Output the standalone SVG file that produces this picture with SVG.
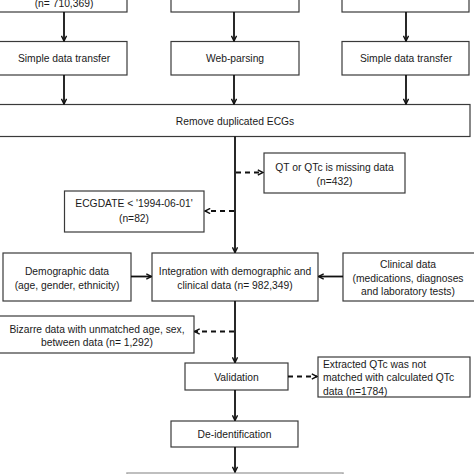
<svg xmlns="http://www.w3.org/2000/svg" width="474" height="474" viewBox="0 0 474 474">
<style>
.box{fill:#fff;stroke:#3a3a3a;stroke-width:1.2}
.t{font-family:"Liberation Sans",Arial,sans-serif;font-size:10.3px;fill:#1a1a1a;text-anchor:middle}
.tl{font-family:"Liberation Sans",Arial,sans-serif;font-size:10.3px;fill:#1a1a1a;text-anchor:start}
.ln{stroke:#111;stroke-width:1.8;fill:none}
.dl{stroke:#111;stroke-width:1.8;fill:none;stroke-dasharray:5,4}
</style>
<defs>
<marker id="ah" viewBox="0 0 10 10" refX="9" refY="5" markerWidth="6.5" markerHeight="6.5" orient="auto" markerUnits="userSpaceOnUse">
<path d="M1,1 L9,5 L1,9" fill="none" stroke="#111" stroke-width="2.2"/>
</marker>
</defs>
<rect width="474" height="474" fill="#fff"/>
<g id="src1"><rect class="box" x="-1" y="-20" width="128" height="32"/><text class="t" x="64" y="7">(n= 710,369)</text></g>
<g id="src2"><rect class="box" x="171" y="-20" width="128" height="32"/></g>
<g id="src3"><rect class="box" x="342" y="-20" width="127" height="32"/></g>
<g id="xfer1"><rect class="box" x="-1" y="41.5" width="128" height="33.5"/><text class="t" x="64" y="62">Simple data transfer</text></g>
<g id="xfer2"><rect class="box" x="171" y="41.5" width="128" height="33.5"/><text class="t" x="235" y="62">Web-parsing</text></g>
<g id="xfer3"><rect class="box" x="342" y="41.5" width="127" height="33.5"/><text class="t" x="406" y="62">Simple data transfer</text></g>
<g id="remove"><rect class="box" x="-1" y="104.5" width="471" height="32"/><text class="t" x="235" y="124.5">Remove duplicated ECGs</text></g>
<g id="qt"><rect class="box" x="264" y="153" width="141" height="40"/><text class="t" x="334.5" y="170.5">QT or QTc is missing data</text><text class="t" x="334.5" y="184.5">(n=432)</text></g>
<g id="ecgdate"><rect class="box" x="64.5" y="191" width="139.5" height="41"/><text class="t" x="134" y="207">ECGDATE &lt; '1994-06-01'</text><text class="t" x="134" y="222">(n=82)</text></g>
<g id="demo"><rect class="box" x="3" y="253" width="128" height="48"/><text class="t" x="67" y="274.5">Demographic data</text><text class="t" x="67" y="288.5">(age, gender, ethnicity)</text></g>
<g id="integ"><rect class="box" x="152" y="253" width="166" height="48"/><text class="t" x="235" y="274.5">Integration with demographic and</text><text class="t" x="235" y="288.5">clinical data (n= 982,349)</text></g>
<g id="clin"><rect class="box" x="343" y="253" width="132" height="48"/><text class="t" x="408" y="268">Clinical data</text><text class="t" x="408" y="281.5">(medications, diagnoses</text><text class="t" x="408" y="295">and laboratory tests)</text></g>
<g id="bizarre"><rect class="box" x="-1" y="316" width="195" height="37"/><text class="t" x="97" y="333">Bizarre data with unmatched age, sex,</text><text class="t" x="97" y="345.5">between data (n= 1,292)</text></g>
<g id="valid"><rect class="box" x="185" y="363" width="103" height="27"/><text class="t" x="236.5" y="380.5">Validation</text></g>
<g id="extr"><rect class="box" x="318" y="357" width="152" height="40"/><text class="tl" x="323" y="367.5">Extracted QTc was not</text><text class="tl" x="323" y="381">matched with calculated QTc</text><text class="tl" x="323" y="394.5">data (n=1784)</text></g>
<g id="deid"><rect class="box" x="171" y="421" width="127" height="26"/><text class="t" x="234.5" y="437.5">De-identification</text></g>
<g id="final"><rect x="127" y="473" width="216" height="20" fill="#fff" stroke="#aaa" stroke-width="1.5"/></g>
<g id="connectors">
<path class="ln" d="M64,12 V41" marker-end="url(#ah)"/>
<path class="ln" d="M234,12 V41" marker-end="url(#ah)"/>
<path class="ln" d="M406,12 V41" marker-end="url(#ah)"/>
<path class="ln" d="M64,75 V104" marker-end="url(#ah)"/>
<path class="ln" d="M234,75 V104" marker-end="url(#ah)"/>
<path class="ln" d="M406,75 V104" marker-end="url(#ah)"/>
<path class="ln" d="M235,136.5 V252.5" marker-end="url(#ah)"/>
<path class="dl" d="M236,172.5 H263" marker-end="url(#ah)"/>
<path class="dl" d="M234,211 H205" marker-end="url(#ah)"/>
<path class="ln" d="M131,276.5 H151.5" marker-end="url(#ah)"/>
<path class="ln" d="M343,276.5 H318.5" marker-end="url(#ah)"/>
<path class="ln" d="M235,301 V362.5" marker-end="url(#ah)"/>
<path class="dl" d="M234,331.5 H194.5" marker-end="url(#ah)"/>
<path class="dl" d="M288,376.5 H317" marker-end="url(#ah)"/>
<path class="ln" d="M235,390 V420.5" marker-end="url(#ah)"/>
<path class="ln" d="M235,447 V472" marker-end="url(#ah)"/>
</g>
</svg>
